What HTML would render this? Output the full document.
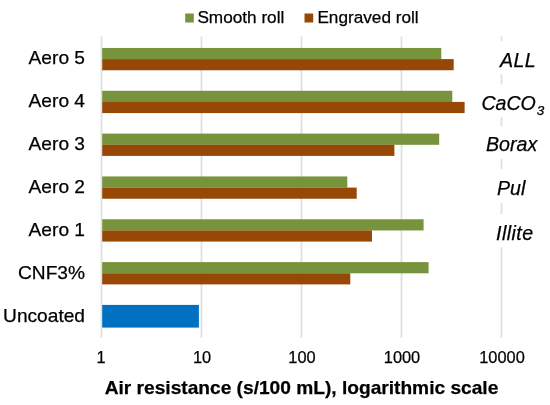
<!DOCTYPE html>
<html><head><meta charset="utf-8">
<style>
html,body{margin:0;padding:0;background:#fff;}
body{width:550px;height:405px;position:relative;overflow:hidden;font-family:"Liberation Sans",Arial,sans-serif;color:#000;-webkit-text-stroke:0.25px #000;}
.cat{position:absolute;left:0;width:85px;text-align:right;font-size:19.15px;line-height:22px;height:22px;white-space:nowrap;}
.rl{position:absolute;font-size:19.6px;line-height:22px;height:22px;font-style:italic;white-space:nowrap;}
.tk{position:absolute;top:348.4px;width:80px;text-align:center;font-size:16.4px;line-height:18px;}
.lg{position:absolute;top:7.4px;font-size:17.2px;line-height:20px;white-space:nowrap;}
.ttl{position:absolute;left:104.7px;top:377px;font-size:19.15px;line-height:22px;font-weight:bold;white-space:nowrap;}
</style></head><body>
<svg width="550" height="405" viewBox="0 0 550 405" style="position:absolute;left:0;top:0">
<g stroke="#e0e0e0" stroke-width="1.8"><line x1="101.5" y1="36.6" x2="101.5" y2="337.7"/><line x1="201.5" y1="36.6" x2="201.5" y2="337.7"/><line x1="301.5" y1="36.6" x2="301.5" y2="337.7"/><line x1="401.5" y1="36.6" x2="401.5" y2="337.7"/><line x1="501.5" y1="36.6" x2="501.5" y2="337.7"/></g>
<rect x="476" y="41.1" width="72" height="33.2" fill="#fff"/><rect x="476" y="84.5" width="72" height="32.6" fill="#fff"/><rect x="476" y="126.3" width="72" height="32.6" fill="#fff"/><rect x="476" y="169.1" width="72" height="33.6" fill="#fff"/><rect x="476" y="214.2" width="72" height="33.2" fill="#fff"/>
<rect x="185.2" y="13.5" width="8.6" height="9" fill="#77933c"/>
<rect x="304.5" y="13.5" width="8.7" height="9" fill="#974806"/>
<rect x="102.2" y="47.95" width="339.1" height="11.2" fill="#77933c"/><rect x="102.2" y="59.10" width="351.5" height="11.15" fill="#974806"/>
<rect x="102.2" y="90.78" width="350.1" height="11.2" fill="#77933c"/><rect x="102.2" y="101.93" width="362.4" height="11.15" fill="#974806"/>
<rect x="102.2" y="133.61" width="337.0" height="11.2" fill="#77933c"/><rect x="102.2" y="144.76" width="292.2" height="11.15" fill="#974806"/>
<rect x="102.2" y="176.44" width="245.1" height="11.2" fill="#77933c"/><rect x="102.2" y="187.59" width="254.5" height="11.15" fill="#974806"/>
<rect x="102.2" y="219.27" width="321.4" height="11.2" fill="#77933c"/><rect x="102.2" y="230.42" width="269.8" height="11.15" fill="#974806"/>
<rect x="102.2" y="262.10" width="326.4" height="11.2" fill="#77933c"/><rect x="102.2" y="273.25" width="248.1" height="11.15" fill="#974806"/>
<rect x="102.2" y="304.9" width="96.7" height="22.7" fill="#0070c0"/>
</svg>
<div class="lg" style="left:197.4px">Smooth roll</div>
<div class="lg" style="left:317.4px">Engraved roll</div>

<div class="cat" style="top:47px">Aero 5</div>
<div class="cat" style="top:90px">Aero 4</div>
<div class="cat" style="top:133px">Aero 3</div>
<div class="cat" style="top:176px">Aero 2</div>
<div class="cat" style="top:219px">Aero 1</div>
<div class="cat" style="top:262px">CNF3%</div>
<div class="cat" style="top:305px">Uncoated</div>

<div class="rl" style="left:500px;top:49px;letter-spacing:0.4px">ALL</div>
<div class="rl" style="left:481.4px;top:92px">CaCO<span style="font-size:13.5px;position:relative;top:4.6px;margin-left:0.8px">3</span></div>
<div class="rl" style="left:486px;top:133px">Borax</div>
<div class="rl" style="left:497px;top:177px">Pul</div>
<div class="rl" style="left:496px;top:222px;letter-spacing:0.45px">Illite</div>

<div class="tk" style="left:61px">1</div>
<div class="tk" style="left:162px">10</div>
<div class="tk" style="left:262px">100</div>
<div class="tk" style="left:362px">1000</div>
<div class="tk" style="left:462px">10000</div>

<div class="ttl">Air resistance (s/100 mL), logarithmic scale</div>
</body></html>
